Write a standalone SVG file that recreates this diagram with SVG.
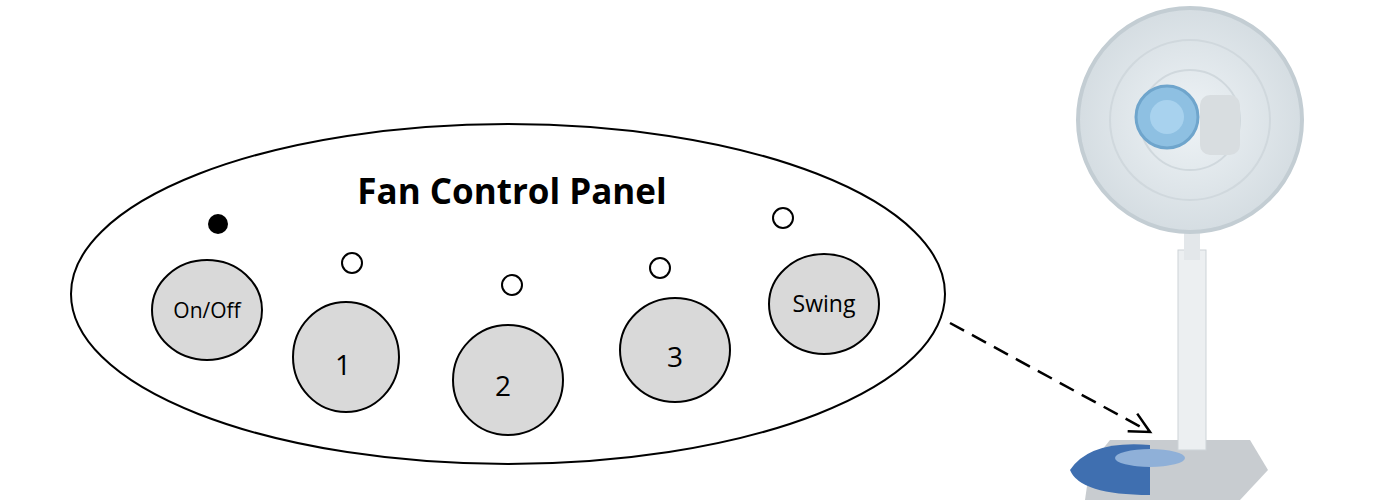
<svg xmlns="http://www.w3.org/2000/svg" width="1386" height="504" viewBox="0 0 1386 504">
<style>
.btn{fill:#d9d9d9;stroke:#000;stroke-width:2}
.led{fill:#fff;stroke:#000;stroke-width:2}
.t{font-family:"Open Sans","Liberation Sans",sans-serif;fill:#000}
</style>
<defs>
<marker id="ah" markerWidth="26" markerHeight="26" refX="22" refY="13" orient="auto" markerUnits="userSpaceOnUse">
<path d="M2,3 L22,13 L2,23" fill="none" stroke="#000" stroke-width="2.5"/>
</marker>
<radialGradient id="g1" cx="0.5" cy="0.5" r="0.5"><stop offset="0" stop-color="#eef3f6"/><stop offset="1" stop-color="#d5dde2"/></radialGradient>
</defs>
<rect width="1386" height="504" fill="#fff"/>
<g id="panel">
<ellipse cx="508" cy="294" rx="437" ry="170" fill="#fff" stroke="#000" stroke-width="2"/>
<text class="t" x="512" y="204" font-size="35" font-weight="bold" text-anchor="middle">Fan Control Panel</text>
</g>
<g id="led-onoff"><circle cx="218" cy="224" r="10" fill="#000"/></g>
<g id="led-1"><circle class="led" cx="352" cy="263" r="10"/></g>
<g id="led-2"><circle class="led" cx="512" cy="285" r="10"/></g>
<g id="led-3"><circle class="led" cx="660" cy="268" r="10"/></g>
<g id="led-swing"><circle class="led" cx="783" cy="218" r="10"/></g>
<g id="btn-onoff"><ellipse class="btn" cx="207" cy="310" rx="55" ry="50"/><text class="t" x="207" y="318" font-size="21" text-anchor="middle">On/Off</text></g>
<g id="btn-1"><ellipse class="btn" cx="346" cy="357" rx="53" ry="55"/><text class="t" x="343" y="375" font-size="28" text-anchor="middle">1</text></g>
<g id="btn-2"><ellipse class="btn" cx="508" cy="380" rx="55" ry="55"/><text class="t" x="503" y="396" font-size="28" text-anchor="middle">2</text></g>
<g id="btn-3"><ellipse class="btn" cx="675" cy="350" rx="55" ry="52"/><text class="t" x="675" y="367" font-size="28" text-anchor="middle">3</text></g>
<g id="btn-swing"><ellipse class="btn" cx="824" cy="304" rx="55" ry="50"/><text class="t" x="824" y="312" font-size="23" text-anchor="middle">Swing</text></g>
<g id="connectors">
<line x1="950" y1="323" x2="1150" y2="432" stroke="#000" stroke-width="2.5" stroke-dasharray="16,9" marker-end="url(#ah)"/>
</g>
<g id="fan">
<path d="M1090,465 L1110,440 L1250,440 L1268,470 L1240,500 L1085,500 Z" fill="#c8ccd0"/>
<path d="M1070,470 Q1090,440 1150,445 L1150,495 Q1080,495 1070,470 Z" fill="#3f6fb0"/>
<ellipse cx="1150" cy="458" rx="35" ry="9" fill="#8fb0d8"/>
<rect x="1178" y="250" width="28" height="200" fill="#eceff1" stroke="#cdd3d7"/>
<rect x="1184" y="170" width="16" height="90" fill="#e3e7ea"/>
<circle cx="1190" cy="120" r="112" fill="url(#g1)" stroke="#c3cdd3" stroke-width="4"/>
<circle cx="1190" cy="120" r="80" fill="none" stroke="#d0d8dd" stroke-width="2"/>
<circle cx="1190" cy="120" r="50" fill="none" stroke="#d0d8dd" stroke-width="2"/>
<rect x="1200" y="95" width="40" height="60" rx="10" fill="#d8dde0"/>
<circle cx="1167" cy="117" r="31" fill="#8ec0e2" stroke="#6fa5cc" stroke-width="3"/>
<circle cx="1167" cy="117" r="17" fill="#a8d2ee"/>
</g>
</svg>
